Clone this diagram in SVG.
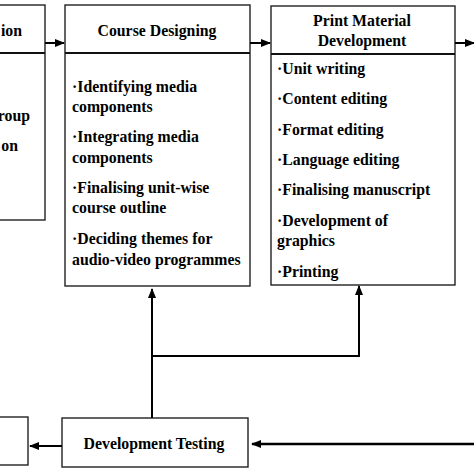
<svg xmlns="http://www.w3.org/2000/svg" width="474" height="474" viewBox="0 0 474 474">
<style>
.box{fill:#fff;stroke:#222;stroke-width:1.4}
.div{stroke:#111;stroke-width:2}
.t{font-family:"Liberation Serif","Times New Roman",serif;font-weight:bold;font-size:15.8px;fill:#000}
.c{text-anchor:middle}
.e{text-anchor:end}
.ln{fill:none;stroke:#000;stroke-width:2}
</style>
<defs>
<marker id="ah" markerWidth="10" markerHeight="8" refX="9" refY="4" orient="auto" markerUnits="userSpaceOnUse">
<path d="M0,0 L10,4 L0,8 Z" fill="#000"/>
</marker>
</defs>
<rect width="474" height="474" fill="#fff"/>
<g id="node-left-top">
<rect class="box" x="-10" y="5" width="55" height="215"/>
<line class="div" x1="-10" y1="53" x2="45" y2="53"/>
<text class="t e" x="22" y="36">ion</text>
<text class="t e" x="30" y="121">roup</text>
<text class="t e" x="18" y="151">on</text>
</g>
<g id="node-course-designing">
<rect class="box" x="65" y="5" width="185" height="281"/>
<line class="div" x1="65" y1="53" x2="250" y2="53"/>
<text class="t c" x="157" y="36">Course Designing</text>
<text class="t" x="72" y="92">·Identifying media</text>
<text class="t" x="72" y="112">components</text>
<text class="t" x="72" y="142">·Integrating media</text>
<text class="t" x="72" y="163">components</text>
<text class="t" x="72" y="193">·Finalising unit-wise</text>
<text class="t" x="72" y="213">course outline</text>
<text class="t" x="72" y="244">·Deciding themes for</text>
<text class="t" x="72" y="265">audio-video programmes</text>
</g>
<g id="node-print-material">
<rect class="box" x="271" y="6" width="184" height="279"/>
<line class="div" x1="271" y1="54" x2="455" y2="54"/>
<text class="t c" x="362" y="26">Print Material</text>
<text class="t c" x="362" y="46">Development</text>
<text class="t" x="277" y="74">·Unit writing</text>
<text class="t" x="277" y="104">·Content editing</text>
<text class="t" x="277" y="134.5">·Format editing</text>
<text class="t" x="277" y="165">·Language editing</text>
<text class="t" x="277" y="195">·Finalising manuscript</text>
<text class="t" x="277" y="225.5">·Development of</text>
<text class="t" x="277" y="246">graphics</text>
<text class="t" x="277" y="277">·Printing</text>
</g>
<g id="node-development-testing">
<rect class="box" x="62" y="418" width="186" height="49"/>
<text class="t c" x="154" y="449">Development Testing</text>
</g>
<g id="node-left-bottom">
<rect class="box" x="-10" y="417" width="38" height="48"/>
</g>
<g id="connectors">
<line class="ln" x1="45" y1="43" x2="64" y2="43" marker-end="url(#ah)"/>
<line class="ln" x1="250" y1="43" x2="270" y2="43" marker-end="url(#ah)"/>
<line class="ln" x1="455" y1="43" x2="474" y2="43" marker-end="url(#ah)"/>
<line class="ln" x1="152" y1="418" x2="152" y2="289" marker-end="url(#ah)"/>
<polyline class="ln" points="152,356 359,356 359,286" marker-end="url(#ah)"/>
<line class="ln" x1="62" y1="446" x2="30" y2="446" marker-end="url(#ah)"/>
<line class="ln" style="stroke-width:2.6" x1="476" y1="444" x2="252" y2="444" marker-end="url(#ah)"/>
</g>
</svg>
